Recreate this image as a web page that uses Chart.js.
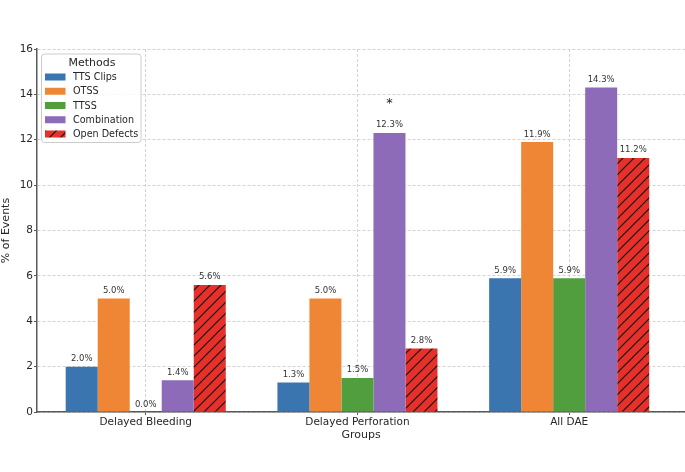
<!DOCTYPE html>
<html>
<head>
<meta charset="utf-8">
<script src="https://cdn.jsdelivr.net/npm/chart.js@4.4.1/dist/chart.umd.min.js"></script>
<style>
html,body{margin:0;padding:0;background:#fff;}
#wrap{width:685px;height:472px;position:relative;}
</style>
</head>
<body>
<div id="wrap"><canvas id="c" width="685" height="472"></canvas></div>
<script>
const categories = ["Delayed Bleeding", "Delayed Perforation", "All DAE"];
const methods = ["TTS Clips", "OTSS", "TTSS", "Combination", "Open Defects"];
const ttsClips = [2.0, 1.3, 5.9];
const otss = [5.0, 5.0, 11.9];
const ttss = [0.0, 1.5, 5.9];
const combination = [1.4, 12.3, 14.3];
const openDefects = [5.6, 2.8, 11.2];
const yTicks = [0, 2, 4, 6, 8, 10, 12, 14, 16];
const significance = [{category: 1, method: 3, mark: "*"}];

const colors = ["#3b75af", "#ef8636", "#519e3e", "#8d6bb8", "#e8302a"];
const FONT = "'DejaVu Sans', sans-serif";

function hatchPattern(bg) {
  const s = 11;
  const c = document.createElement('canvas');
  c.width = s; c.height = s;
  const x = c.getContext('2d');
  x.fillStyle = bg; x.fillRect(0, 0, s, s);
  x.strokeStyle = '#111'; x.lineWidth = 1.2;
  x.beginPath();
  x.moveTo(0, s); x.lineTo(s, 0);
  x.moveTo(-s/2, s/2); x.lineTo(s/2, -s/2);
  x.moveTo(s/2, s*1.5); x.lineTo(s*1.5, s/2);
  x.stroke();
  return x.createPattern(c, 'repeat');
}
const redHatch = hatchPattern(colors[4]);

const seriesValues = [ttsClips, otss, ttss, combination, openDefects];
const datasets = methods.map((m, i) => ({
  label: m,
  data: seriesValues[i].map((v, j) => ({ x: j, y: v })),
  backgroundColor: i === 4 ? redHatch : colors[i],
  borderWidth: 0,
  categoryPercentage: 0.756,
  barPercentage: 1.0
}));

const labelPlugin = {
  id: 'labels',
  afterDatasetsDraw(chart) {
    const ctx = chart.ctx;
    ctx.save();
    ctx.font = "8.5px " + FONT;
    ctx.fillStyle = '#333';
    ctx.textAlign = 'center';
    ctx.textBaseline = 'alphabetic';
    chart.data.datasets.forEach((ds, di) => {
      const meta = chart.getDatasetMeta(di);
      meta.data.forEach((bar, j) => {
        ctx.fillText(ds.data[j].y.toFixed(1) + '%', bar.x, bar.y - 5.5);
      });
    });
    ctx.font = "13px " + FONT;
    ctx.fillStyle = '#222';
    significance.forEach(s => {
      const bar = chart.getDatasetMeta(s.method).data[s.category];
      ctx.fillText(s.mark, bar.x, bar.y - 26);
    });
    ctx.restore();
  }
};

const legendPlugin = {
  id: 'boxLegend',
  afterDraw(chart) {
    const ctx = chart.ctx;
    const x0 = 41.5, y0 = 54, w = 99.5, h = 88.5;
    ctx.save();
    ctx.fillStyle = 'rgba(255,255,255,0.85)';
    ctx.strokeStyle = '#cccccc';
    ctx.lineWidth = 1;
    ctx.beginPath();
    ctx.roundRect(x0, y0, w, h, 3);
    ctx.fill(); ctx.stroke();
    ctx.fillStyle = '#262626';
    ctx.font = "11px " + FONT;
    ctx.textAlign = 'center';
    ctx.textBaseline = 'middle';
    ctx.fillText('Methods', 92, 63);
    ctx.textAlign = 'left';
    ctx.font = "9.6px " + FONT;
    chart.data.datasets.forEach((ds, i) => {
      const yc = 77 + i * 14.25;
      ctx.fillStyle = ds.backgroundColor;
      ctx.fillRect(45, yc - 3.5, 20.5, 7);
      ctx.fillStyle = '#262626';
      ctx.fillText(ds.label, 73, yc + 0.5);
    });
    ctx.restore();
  }
};

new Chart(document.getElementById('c'), {
  type: 'bar',
  data: { datasets },
  plugins: [labelPlugin, legendPlugin],
  options: {
    responsive: false,
    animation: false,
    devicePixelRatio: 1,
    layout: { padding: { top: 49, right: 0, bottom: 0, left: 0 } },
    plugins: { legend: { display: false }, tooltip: { enabled: false } },
    scales: {
      x: {
        type: 'linear',
        min: -0.5135,
        max: 2.547,
        offset: false,
        afterFit(s) { s.height = 60; },
        afterBuildTicks(s) { s.ticks = categories.map((c, i) => ({ value: i })); },
        grid: {
          offset: false,
          color: '#d3d3d3',
          tickBorderDash: [],
          tickColor: '#555',
          tickLength: 3,
          drawTicks: true
        },
        border: { display: true, color: '#5a5a5a', width: 1.5, dash: [3, 2] },
        ticks: {
          color: '#262626', font: { family: FONT, size: 10.5 }, padding: 0.5,
          maxRotation: 0, autoSkip: false,
          callback: (v) => categories[v]
        },
        title: { display: true, text: 'Groups', color: '#262626', font: { family: FONT, size: 11 }, padding: { top: 0, bottom: 30 } }
      },
      y: {
        min: 0, max: 16,
        afterFit(s) { s.width = 37; },
        afterBuildTicks(s) { s.ticks = yTicks.map(v => ({ value: v })); },
        grid: {
          color: '#d3d3d3',
          tickBorderDash: [],
          tickColor: '#555',
          tickLength: 3,
          drawTicks: true
        },
        border: { display: true, color: '#5a5a5a', width: 1.5, dash: [3, 2] },
        ticks: { color: '#262626', font: { family: FONT, size: 10.5 }, padding: 1 },
        title: { display: true, text: '% of Events', color: '#262626', font: { family: FONT, size: 11 }, padding: { top: 0, bottom: 0 } }
      }
    }
  }
});
</script>
</body>
</html>
